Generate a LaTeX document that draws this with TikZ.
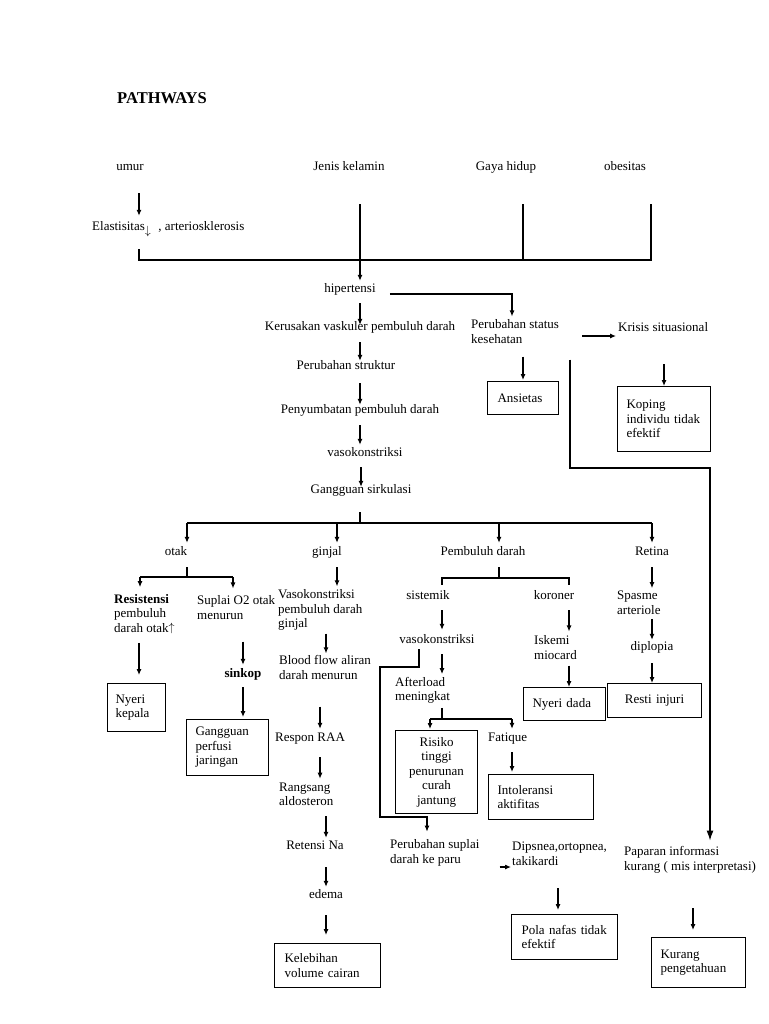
\documentclass[tikz,border=0pt]{standalone}
\usepackage{fontspec}
\setmainfont{Liberation Serif}
\usetikzlibrary{arrows.meta}
\tikzset{
  txt/.style={inner sep=0pt, text height=9pt, text depth=3pt},
  mtxt/.style={inner sep=0pt, align=left, anchor=west},
  box/.style={draw, line width=1.1pt, inner xsep=9pt, inner ysep=0pt, align=left, anchor=north west},
  line/.style={line width=1.1pt},
  arr/.style={line width=1.1pt, -{Latex[length=6pt,width=5pt]}, shorten <=9pt, shorten >=-1pt},
  drop/.style={arr, shorten <=0pt, shorten >=3pt},
  bigarr/.style={line width=1.2pt, -{Latex[length=10pt,width=7pt]}},
}
\begin{document}
\begin{tikzpicture}[x=1pt, y=-1pt, font={\fontsize{13}{14.5}\selectfont}]
  \useasboundingbox (0,0) rectangle (768,1024);
  \node[inner sep=0pt, anchor=west, font={\fontsize{16.5}{18}\selectfont\bfseries}] (title) at (117,98) {PATHWAYS};
  \node[txt] (umur) at (130,168) {umur};
  \node[txt] (jenis) at (349,168) {Jenis kelamin};
  \node[txt] (gaya) at (506,168) {Gaya hidup};
  \node[txt] (obes) at (625,168) {obesitas};
  \node[txt, anchor=west] (elast) at (92,227) {Elastisitas\raisebox{-4pt}{$\downarrow$}\hspace{7.5pt}, arteriosklerosis};
  \node[txt] (hip) at (350,289) {hipertensi};
  \node[txt] (ker) at (360,327) {Kerusakan vaskuler pembuluh darah};
  \node[mtxt] (status) at (471,331.5) {Perubahan status\\kesehatan};
  \node[txt, anchor=west] (krisis) at (618,328) {Krisis situasional};
  \node[box, text width=51pt, minimum height=33pt, inner xsep=10pt] (ans) at (487,381) {Ansietas};
  \node[box, text width=75pt, minimum height=65pt] (kop) at (617,386) {Koping\\individu tidak\\efektif};
  \node[txt] (ps) at (346,366) {Perubahan struktur};
  \node[txt] (peny) at (360,410) {Penyumbatan pembuluh darah};
  \node[txt] (vaso) at (365,453) {vasokonstriksi};
  \node[txt] (gang) at (361,490) {Gangguan sirkulasi};
  \node[txt] (otak) at (176,552) {otak};
  \node[txt] (ginjal) at (327,552) {ginjal};
  \node[txt] (pd) at (483,552) {Pembuluh darah};
  \node[txt] (retina) at (652,552) {Retina};
  \node[mtxt] (resist) at (114,614) {\textbf{Resistensi}\\pembuluh\\darah otak\raisebox{1pt}{$\uparrow$}};
  \node[mtxt] (suplai) at (197,607.5) {Suplai O2 otak\\menurun};
  \node[mtxt] (vkg) at (278,610) {Vasokonstriksi\\pembuluh darah\\ginjal};
  \node[mtxt] (blood) at (279,667.5) {Blood flow aliran\\darah menurun};
  \node[txt, anchor=west] (raa) at (275,738) {Respon RAA};
  \node[mtxt] (rang) at (279,794.5) {Rangsang\\aldosteron};
  \node[txt] (retna) at (315,846) {Retensi Na};
  \node[txt] (edema) at (326,895) {edema};
  \node[box, text width=86pt, minimum height=44pt, inner xsep=10pt] (kel) at (274,943) {Kelebihan\\volume cairan};
  \node[box, text width=42pt, minimum height=48pt, inner xsep=8pt] (nkep) at (107,683) {Nyeri\\kepala};
  \node[txt] (sink) at (243,674) {\textbf{sinkop}};
  \node[box, text width=64pt, minimum height=56pt] (gpj) at (186,719) {Gangguan\\perfusi\\jaringan};
  \node[txt] (sist) at (428,596) {sistemik};
  \node[txt] (koro) at (554,596) {koroner};
  \node[txt] (vaso2) at (437,640) {vasokonstriksi};
  \node[mtxt] (isk) at (534,647.5) {Iskemi\\miocard};
  \node[mtxt] (spasme) at (617,603) {Spasme\\arteriole};
  \node[txt] (diplo) at (652,647) {diplopia};
  \node[box, align=center, text width=76pt, minimum height=34pt] (resti) at (607,683) {Resti injuri};
  \node[box, text width=64pt, minimum height=33pt] (ndada) at (523,687) {Nyeri dada};
  \node[mtxt] (after) at (395,690.5) {Afterload\\meningkat};
  \node[box, align=center, text width=64pt, minimum height=83pt] (risiko) at (395,730) {Risiko\\tinggi\\penurunan\\curah\\jantung};
  \node[txt, anchor=west] (fat) at (488,738) {Fatique};
  \node[box, text width=87pt, minimum height=45pt] (intol) at (488,774) {Intoleransi\\aktifitas};
  \node[mtxt] (psup) at (390,853) {Perubahan suplai\\darah ke paru};
  \node[mtxt] (dips) at (512,853.5) {Dipsnea,ortopnea,\\takikardi};
  \node[box, text width=86pt, minimum height=45pt, inner xsep=10pt] (pola) at (511,914) {Pola nafas tidak\\efektif};
  \node[mtxt] (papar) at (624,860) {Paparan informasi\\kurang ( mis interpretasi)};
  \node[box, text width=76pt, minimum height=50pt] (kur) at (651,937) {Kurang\\pengetahuan};

  \coordinate (fj) at (139,260);
  \coordinate (sbend) at (570,468);
  \coordinate (gbus) at (360,523);
  \coordinate (obus) at (187,577);
  \coordinate (pbus) at (499,578);
  \coordinate (sbk1) at (380,667);
  \coordinate (sbk2) at (380,817);
  \coordinate (abus) at (442,719);

  \draw[arr, shorten <=19pt, shorten >=5pt] ([xshift=9pt]umur.south) -- ([xshift=9pt]umur.south |- elast.north);
  \draw[line, shorten <=16pt] (elast.south -| fj) -- (fj) -- ([xshift=26pt]obes.south |- fj) -- ([xshift=26pt,yshift=-30pt]obes.south);
  \draw[line] ([xshift=17pt,yshift=-30pt]gaya.south) -- ([xshift=17pt]gaya.south |- fj);
  \draw[arr, shorten <=30pt, shorten >=2pt] ([xshift=11pt]jenis.south) -- ([xshift=11pt]jenis.south |- hip.north);
  \draw[arr, shorten <=14pt, shorten >=3pt] ([yshift=-5pt]hip.east) -| ([xshift=41pt]status.north west);
  \draw[arr, shorten <=8pt, shorten >=-4pt] (ker.north |- hip.south) -- (ker.north);
  \draw[arr] (ker.south) -- (ker.south |- ps.north);
  \draw[arr, shorten <=11pt] (peny.north |- ps.south) -- (peny.north);
  \draw[arr, shorten >=2pt] (peny.south) -- (peny.south |- vaso.north);
  \draw[arr, shorten <=8pt, shorten >=-3pt] (gang.north |- vaso.south) -- (gang.north);
  \draw[arr, shorten <=23pt, shorten >=2pt] ([yshift=-8pt]krisis.west -| status.east) -- ([yshift=-8pt]krisis.west);
  \draw[arr, shorten <=13pt, shorten >=1pt] ([xshift=36pt]ans.north west |- status.south) -- ([xshift=36pt]ans.north west);
  \draw[bigarr, shorten <=16pt, shorten >=6pt] (sbend |- status.south) -- (sbend) -| ([xshift=86pt]papar.north west);
  \draw[arr, shorten <=30pt, shorten >=0pt] ([xshift=47pt]kop.north west |- krisis.south) -- ([xshift=47pt]kop.north west);

  \draw[line, shorten <=16pt] (gang.south -| gbus) -- (gbus);
  \draw[line] ([xshift=11pt]otak.north |- gbus) -- (retina.north |- gbus);
  \draw[drop] ([xshift=11pt]otak.north |- gbus) -- ([xshift=11pt]otak.north);
  \draw[drop] ([xshift=10pt]ginjal.north |- gbus) -- ([xshift=10pt]ginjal.north);
  \draw[drop] ([xshift=16pt]pd.north |- gbus) -- ([xshift=16pt]pd.north);
  \draw[drop] (retina.north |- gbus) -- (retina.north);

  \draw[line, shorten <=9pt] ([xshift=11pt]otak.south) -- (obus);
  \draw[line] ([xshift=26pt]resist.north west |- obus) -- ([xshift=36pt]suplai.north west |- obus);
  \draw[drop, shorten >=7pt] ([xshift=26pt]resist.north west |- obus) -- ([xshift=26pt]resist.north west);
  \draw[drop, shorten >=7pt] ([xshift=36pt]suplai.north west |- obus) -- ([xshift=36pt]suplai.north west);
  \draw[arr, shorten >=3pt] ([xshift=10pt]ginjal.south) -- ([xshift=10pt]ginjal.south |- vkg.north);
  \draw[arr, shorten <=3pt, shorten >=2pt] ([xshift=47pt]blood.north west |- vkg.south) -- ([xshift=47pt]blood.north west);
  \draw[arr, shorten <=27pt, shorten >=3pt] ([xshift=45pt]raa.north west |- blood.south) -- ([xshift=45pt]raa.north west);
  \draw[arr, shorten <=13pt, shorten >=4pt] ([xshift=41pt]rang.north west |- raa.south) -- ([xshift=41pt]rang.north west);
  \draw[arr, shorten <=10pt, shorten >=2pt] ([xshift=11pt]retna.north |- rang.south) -- ([xshift=11pt]retna.north);
  \draw[arr, shorten <=15pt, shorten >=2pt] (edema.north |- retna.south) -- (edema.north);
  \draw[arr, shorten <=14pt, shorten >=8pt] (edema.south) -- (edema.south |- kel.north);
  \draw[arr, shorten <=9pt, shorten >=8pt] ([xshift=32pt]nkep.north west |- resist.south) -- ([xshift=32pt]nkep.north west);
  \draw[arr, shorten <=22pt, shorten >=3pt] (sink.north |- suplai.south) -- (sink.north);
  \draw[arr, shorten <=7pt, shorten >=2pt] (sink.south) -- (sink.south |- gpj.north);

  \draw[line, shorten <=9pt] ([xshift=16pt]pd.south) -- (pbus);
  \draw[line, shorten <=5pt, shorten >=5pt] ([xshift=14pt]sist.north) -- ([xshift=14pt]sist.north |- pbus) -- ([xshift=15pt]koro.north |- pbus) -- ([xshift=15pt]koro.north);
  \draw[arr, shorten <=8pt, shorten >=4pt] ([xshift=14pt]sist.south) -- ([xshift=14pt]sist.south |- vaso2.north);
  \draw[arr, shorten <=8pt, shorten >=4pt] ([xshift=15pt]koro.south) -- ([xshift=15pt]koro.south |- isk.north);
  \draw[arr, shorten <=9pt, shorten >=3pt] (retina.south) -- (retina.south |- spasme.north);
  \draw[arr, shorten <=4pt, shorten >=1pt] (diplo.north |- spasme.south) -- (diplo.north);
  \draw[arr, shorten <=10pt, shorten >=0pt] (diplo.south) -- (diplo.south |- resti.north);
  \draw[arr, shorten <=6pt, shorten >=0pt] ([xshift=35pt]isk.south west) -- ([xshift=35pt]isk.south west |- ndada.north);
  \draw[arr, shorten <=8pt, shorten >=3pt] ([xshift=5pt]vaso2.south) -- ([xshift=5pt]vaso2.south |- after.north);
  \draw[arr, shorten <=3pt, shorten >=8pt] ([xshift=-18pt]vaso2.south) |- (sbk1) -- (sbk2) -| ([xshift=37pt]psup.north west);
  \draw[line, shorten <=4pt] (after.south -| abus) -- (abus);
  \draw[line] ([xshift=35pt]risiko.north west |- abus) -- ([xshift=24pt]fat.north west |- abus);
  \draw[drop, shorten >=1pt] ([xshift=35pt]risiko.north west |- abus) -- ([xshift=35pt]risiko.north west);
  \draw[drop] ([xshift=24pt]fat.north west |- abus) -- ([xshift=24pt]fat.north west);
  \draw[arr, shorten <=8pt, shorten >=2pt] ([xshift=24pt]fat.south west) -- ([xshift=24pt]fat.south west |- intol.north);
  \draw[arr, shorten <=20pt, shorten >=1pt] ([yshift=-14pt]psup.east) -- ([yshift=-14pt]psup.east -| dips.west);
  \draw[arr, shorten <=23pt, shorten >=4pt] ([xshift=47pt]pola.north west |- dips.south) -- ([xshift=47pt]pola.north west);
  \draw[arr, shorten <=35pt, shorten >=7pt] ([xshift=42pt]kur.north west |- papar.south) -- ([xshift=42pt]kur.north west);
\end{tikzpicture}
\end{document}
